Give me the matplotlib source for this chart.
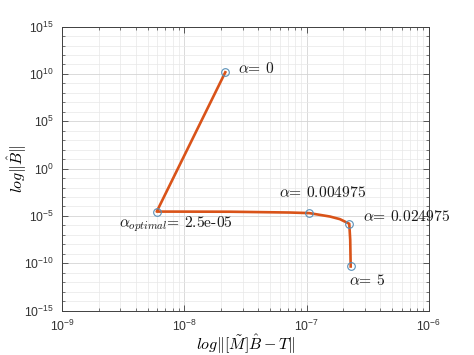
import matplotlib

matplotlib.use("Agg")
import matplotlib.pyplot as plt  # noqa: E402
from matplotlib.ticker import FixedLocator, LogFormatterSciNotation, NullFormatter  # noqa: E402

# --- data ------------------------------------------------------------------

# L-curve: residual norm vs solution norm
curve_res = [2.16e-8, 5.94e-9, 2.37e-8, 7.3e-8, 1.05e-7, 1.55e-7, 1.87e-7,
             2.23e-7, 2.27e-7, 2.29e-7]
curve_sol = [1.5e10, 2.9e-5, 2.8e-5, 2.3e-5, 2.0e-5, 8.7e-6, 4.6e-6,
             1.5e-6, 3.0e-8, 4.6e-11]

# marked regularisation parameters
mark_res = [2.16e-8, 5.94e-9, 1.05e-7, 2.23e-7, 2.29e-7]
mark_sol = [1.5e10, 2.9e-5, 2.0e-5, 1.5e-6, 4.6e-11]
mark_labels = [r"$\alpha$= 0", r"$\alpha_{optimal}$= 2.5e-05",
               r"$\alpha$= 0.004975", r"$\alpha$= 0.024975", r"$\alpha$= 5"]
# label offsets in points (dx, dy)
mark_offsets = [(9, 3), (-27, -9), (-22, 15), (10, 5), (-1, -10)]

x_major = [1e-9, 1e-8, 1e-7, 1e-6]
y_major_exp = [-15, -10, -5, 0, 5, 10, 15]

# --- styling ----------------------------------------------------------------

_LINE = "#D95319"
_MARK = "#5a90b8"
_AX = "#404040"

plt.rcParams.update({
    "font.family": ["Liberation Sans", "DejaVu Sans"],
    "mathtext.fontset": "cm",
    "font.size": 8.8,
    "axes.edgecolor": _AX,
    "axes.linewidth": 0.7,
    "xtick.color": _AX, "ytick.color": _AX,
    "xtick.labelcolor": "#333333", "ytick.labelcolor": "#333333",
})

fig = plt.figure(figsize=(4.74, 3.55), dpi=100)
ax = fig.add_axes([0.131, 0.125, 0.774, 0.8])

ax.plot(curve_res, curve_sol, color=_LINE, lw=1.9, zorder=3)
ax.plot(mark_res, mark_sol, ls="none", marker="o", ms=5.5, mfc="none",
        mec=_MARK, mew=0.8, zorder=4)

for xr, ys, lab, (dx, dy) in zip(mark_res, mark_sol, mark_labels, mark_offsets):
    ax.annotate(lab, xy=(xr, ys), xytext=(dx, dy), textcoords="offset points",
                ha="left", va="center", fontsize=11.2, family="cmr10",
                color="#1a1a1a", zorder=5)

ax.set_xscale("log")
ax.set_yscale("log")
ax.set_xlim(1e-9, 1e-6)
ax.set_ylim(1e-15, 1e15)

ax.xaxis.set_major_locator(FixedLocator(x_major))
ax.xaxis.set_minor_locator(FixedLocator(
    [m * 10.0 ** e for e in (-9, -8, -7) for m in range(2, 10)]))
ax.yaxis.set_major_locator(FixedLocator([10.0 ** e for e in y_major_exp]))
ax.yaxis.set_minor_locator(FixedLocator([10.0 ** e for e in range(-15, 16)]))
ax.xaxis.set_major_formatter(LogFormatterSciNotation())
ax.yaxis.set_major_formatter(LogFormatterSciNotation())
ax.xaxis.set_minor_formatter(NullFormatter())
ax.yaxis.set_minor_formatter(NullFormatter())

ax.tick_params(which="both", direction="in", top=True, right=True)
ax.tick_params(which="major", length=4, width=0.6, pad=6)
ax.tick_params(which="minor", length=2, width=0.5)

ax.grid(True, which="major", color="#d4d4d4", lw=0.6)
ax.grid(True, which="minor", color="#e8e8e8", lw=0.5)
ax.set_axisbelow(True)

ax.set_xlabel(r"$log\|[\tilde{M}]\hat{B}-T\|$", fontsize=11.5, labelpad=-1)
ax.set_ylabel(r"$log\|\hat{B}\|$", fontsize=11.5, labelpad=-4)

fig.savefig("out.png", dpi=100)
